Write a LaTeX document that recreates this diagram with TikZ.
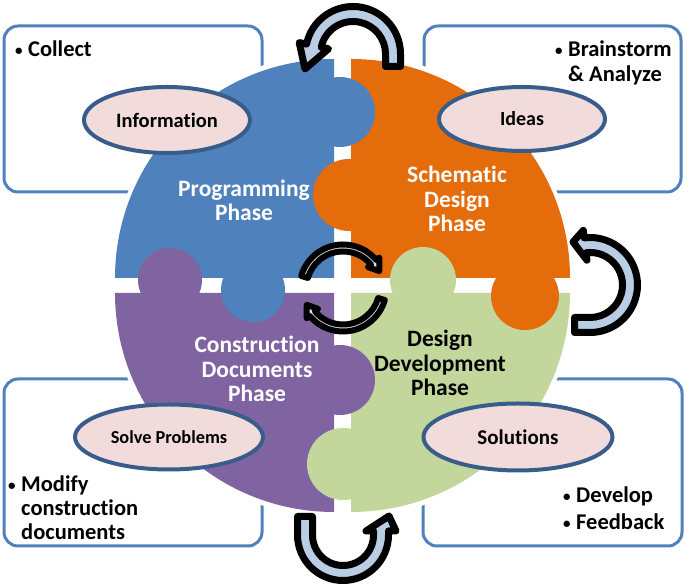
\documentclass[tikz,border=0pt]{standalone}
\usepackage{fontspec}
\setmainfont{Carlito}[Ligatures=NoCommon]
\usetikzlibrary{shapes.geometric,calc}
\definecolor{pblue}{HTML}{4F81BD}
\definecolor{porange}{HTML}{E46C0A}
\definecolor{ppurple}{HTML}{8064A2}
\definecolor{pgreen}{HTML}{C3D69B}
\definecolor{boxline}{HTML}{4F81BD}
\definecolor{ellfill}{HTML}{F2DCDB}
\definecolor{ellline}{HTML}{385D8A}
\definecolor{arrfill}{HTML}{B9CDE5}
\definecolor{corefill}{HTML}{D9DEE8}
\tikzset{
  sidebox/.style={rectangle, draw=boxline, line width=3pt, rounded corners=14pt, inner sep=0pt},
  oval/.style={ellipse, draw=ellline, line width=4pt, fill=ellfill, inner sep=0pt, text=black},
  phase/.style={inner sep=0pt, text=white, font=\fontsize{23.5}{24.5}\selectfont\bfseries},
  boxtext/.style={inner sep=0pt, text=black, font=\fontsize{22.5}{25}\selectfont\bfseries},
  bigarrow/.style={draw=black, line width=7pt, fill=arrfill, line join=round},
  smallarrow/.style={draw=black, line width=6pt, fill=corefill, line join=round},
}
\newcommand{\bul}{\makebox[13pt][l]{\raisebox{1.5pt}{\fontsize{15}{15}\selectfont\textbullet}}}
\newcommand{\arcarrow}[8]{%
  \draw[#1] ($(#2)+(#6:#3+#4)$) arc[start angle=#6, end angle=#7, radius=#3+#4]
    -- ($(#2)+(#7:#3+#5)$) -- ($(#2)+(#8:#3)$) -- ($(#2)+(#7:#3-#5)$)
    -- ($(#2)+(#7:#3-#4)$) arc[start angle=#7, end angle=#6, radius=#3-#4] -- cycle;}
\begin{document}
\begin{tikzpicture}[x=1pt, y=1pt]
\useasboundingbox (0,0) rectangle (685,585);
% side boxes
\node[sidebox, minimum width=258pt, minimum height=166pt] (boxTL) at (133,476) {};
\node[sidebox, minimum width=257pt, minimum height=166pt] (boxTR) at (552.5,476) {};
\node[sidebox, minimum width=258pt, minimum height=167pt] (boxBL) at (133,122.5) {};
\node[sidebox, minimum width=259pt, minimum height=167pt] (boxBR) at (552.5,122.5) {};
% white ring around the puzzle
\fill[white] (342.5,299.5) circle[radius=234];
% quarter pieces
\fill[pblue] (334,307) -- (115,307) arc[start angle=180, end angle=90, radius=219] -- cycle;
\fill[porange] (351,307) -- (351,526) arc[start angle=90, end angle=0, radius=219] -- cycle;
\fill[ppurple] (334,292) -- (115,292) arc[start angle=180, end angle=270, radius=219] -- cycle;
\fill[pgreen] (351,292) -- (351,73) arc[start angle=270, end angle=360, radius=219] -- cycle;
% tabs
\fill[pblue] (340,473) circle[radius=35];
\fill[porange] (349,390) circle[radius=36];
\fill[ppurple] (170,305) circle[radius=32];
\fill[pblue] (253,295) circle[radius=32];
\fill[pgreen] (423,305) circle[radius=33];
\fill[porange] (525,289) circle[radius=34];
\fill[ppurple] (340,205) circle[radius=35];
\fill[pgreen] (343,121) circle[radius=36];
% phase labels
\node[phase, anchor=base, font=\fontsize{23.5}{23}\selectfont\bfseries] (lProg) at (244,388) {\begin{tabular}[t]{@{}c@{}}Programming\\Phase\end{tabular}};
\node[phase, anchor=base] (lSchem) at (457,402) {\begin{tabular}[t]{@{}c@{}}Schematic\\Design\\Phase\end{tabular}};
\node[phase, anchor=base] (lCons) at (257,232) {\begin{tabular}[t]{@{}c@{}}Construction\\Documents\\Phase\end{tabular}};
\node[phase, anchor=base, text=black] (lDev) at (440,238) {\begin{tabular}[t]{@{}c@{}}Design\\Development\\Phase\end{tabular}};
% ellipses
\node[oval, minimum width=166pt, minimum height=66pt, font=\fontsize{20.5}{22}\selectfont\bfseries] (eInfo) at (167,465) {Information};
\node[oval, minimum width=166pt, minimum height=64pt, font=\fontsize{20}{22}\selectfont\bfseries] (eIdeas) at (522,466) {Ideas};
\node[oval, minimum width=188pt, minimum height=65pt, font=\fontsize{18.3}{20}\selectfont\bfseries] (eSolve) at (169,148) {Solve Problems};
\node[oval, minimum width=189pt, minimum height=67pt, font=\fontsize{21}{23}\selectfont\bfseries] (eSol) at (518,148) {Solutions};
% box texts
\node[boxtext, anchor=base west] (tCollect) at (15,528) {\begin{tabular}[t]{@{}l@{}l@{}}\bul & Collect\end{tabular}};
\node[boxtext, anchor=base west] (tBrain) at (555,528) {\begin{tabular}[t]{@{}l@{}l@{}}\bul & Brainstorm\\ & \& Analyze\end{tabular}};
\node[boxtext, anchor=base west, font=\fontsize{22.5}{24}\selectfont\bfseries] (tModify) at (8,93) {\begin{tabular}[t]{@{}l@{}l@{}}\bul & Modify\\ & construction\\ & documents\end{tabular}};
\node[boxtext, anchor=base west, font=\fontsize{22.5}{27}\selectfont\bfseries] (tDev) at (563,82) {\begin{tabular}[t]{@{}l@{}l@{}}\bul & Develop\\ \bul & Feedback\end{tabular}};
% centre arrows
\coordinate (c0) at (343,297);
\arcarrow{smallarrow}{c0}{40}{3.5}{7.5}{164}{40}{25}
\arcarrow{smallarrow}{c0}{40}{3.5}{7.5}{-16}{-140}{-155}
% big arrows
\coordinate (c1) at (353,531);
\draw[bigarrow] (400.5,518.5) -- (400.5,531) arc[start angle=0, end angle=168, radius=47.5]
  -- ($(c1)+(168:55)$) -- (305,516) -- ($(c1)+(168:25)$) -- ($(c1)+(168:32.5)$)
  arc[start angle=168, end angle=0, radius=32.5] -- (385.5,518.5) -- cycle;
\coordinate (c2) at (590,300);
\draw[bigarrow] (574.5,252.5) -- (590,252.5) arc[start angle=-90, end angle=97, radius=47.5]
  -- ($(c2)+(97:55)$) -- (573,343) -- ($(c2)+(97:25)$) -- ($(c2)+(97:32.5)$)
  arc[start angle=97, end angle=-90, radius=32.5] -- (574.5,267.5) -- cycle;
\coordinate (c3) at (343,50);
\draw[bigarrow] (297.5,68.5) -- (297.5,50) arc[start angle=180, end angle=360, radius=45.5]
  -- (388.5,54) -- (396,54) -- (389,69) -- (366,54) -- (373.5,54) -- (373.5,50)
  arc[start angle=360, end angle=180, radius=30.5] -- (312.5,68.5) -- cycle;
\end{tikzpicture}
\end{document}
